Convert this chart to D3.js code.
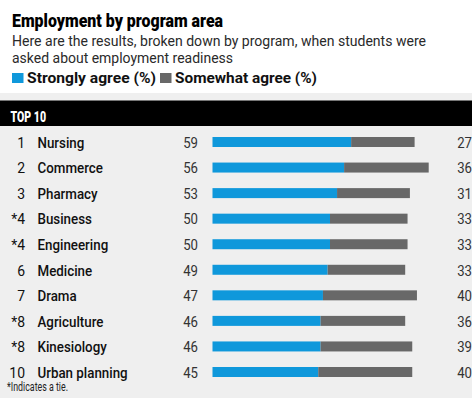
<!DOCTYPE html>
<html>
<head>
<meta charset="utf-8">
<script src="https://cdn.jsdelivr.net/npm/d3@7"></script>
<style>
  html, body { margin: 0; padding: 0; background: #ffffff; }
  svg { display: block; }
  text { font-family: "Roboto", "Liberation Sans", sans-serif; }
</style>
</head>
<body>
<div id="chart"></div>
<script>
const ranks = ["1", "2", "3", "*4", "*4", "6", "7", "*8", "*8", "10"];
const programs = ["Nursing", "Commerce", "Pharmacy", "Business", "Engineering", "Medicine", "Drama", "Agriculture", "Kinesiology", "Urban planning"];
const stronglyAgree = [59, 56, 53, 50, 50, 49, 47, 46, 46, 45];
const somewhatAgree = [27, 36, 31, 33, 33, 33, 40, 36, 39, 40];
const seriesNames = ["Strongly agree (%)", "Somewhat agree (%)"];
const colors = ["#0f98db", "#686868"];

const W = 474, H = 398;
const svg = d3.select("#chart").append("svg").attr("width", W).attr("height", H);

// squeeze text horizontally (condensed look) by a factor
function squeeze(sel, f) {
  sel.each(function () {
    const n = this.getComputedTextLength();
    d3.select(this).attr("textLength", n * f).attr("lengthAdjust", "spacingAndGlyphs");
  });
  return sel;
}
function fitTo(sel, w) {
  sel.attr("textLength", w).attr("lengthAdjust", "spacingAndGlyphs");
  return sel;
}

// backgrounds
svg.append("rect").attr("x", 0).attr("y", 0).attr("width", W).attr("height", H).attr("fill", "#efefef");
svg.append("rect").attr("x", 0).attr("y", 0).attr("width", W).attr("height", 93).attr("fill", "#ffffff");
svg.append("rect").attr("x", 0).attr("y", 100.5).attr("width", 472).attr("height", 25.5).attr("fill", "#000000");

// title block
fitTo(svg.append("text").attr("x", 12).attr("y", 26.5).attr("font-size", 19).attr("font-weight", 900)
  .attr("fill", "#000").text("Employment by program area"), 211);
fitTo(svg.append("text").attr("x", 12).attr("y", 46).attr("font-size", 15.5).attr("fill", "#2a2a2a")
  .text("Here are the results, broken down by program, when students were"), 414);
fitTo(svg.append("text").attr("x", 12).attr("y", 63).attr("font-size", 15.5).attr("fill", "#2a2a2a")
  .text("asked about employment readiness"), 221);

// legend
const legendX = [12, 160];
const legendW = [129, 142];
seriesNames.forEach((n, i) => {
  svg.append("rect").attr("x", legendX[i]).attr("y", 73).attr("width", 11.5).attr("height", 10).attr("fill", colors[i]);
  fitTo(svg.append("text").attr("x", legendX[i] + 15).attr("y", 83).attr("font-size", 15.5).attr("font-weight", 700)
    .attr("fill", "#111").text(n), legendW[i]);
});

fitTo(svg.append("text").attr("x", 10.5).attr("y", 121.5).attr("font-size", 15).attr("font-weight", 900)
  .attr("fill", "#fff").text("TOP 10"), 35.5);

// scales
const x = d3.scaleLinear().domain([0, 100]).range([212.5, 447.5]);
const y = d3.scaleBand().domain(programs).range([137, 377]).paddingInner(0.609).paddingOuter(0);
const bh = y.bandwidth();

const rows = svg.append("g").selectAll("g").data(programs).join("g")
  .attr("transform", d => `translate(0,${y(d)})`);

rows.append("rect").attr("x", x(0)).attr("y", 0).attr("height", bh)
  .attr("width", (d, i) => x(stronglyAgree[i]) - x(0)).attr("fill", colors[0]);
rows.append("rect").attr("x", (d, i) => x(stronglyAgree[i])).attr("y", 0).attr("height", bh)
  .attr("width", (d, i) => x(stronglyAgree[i] + somewhatAgree[i]) - x(stronglyAgree[i])).attr("fill", colors[1]);

const by = bh + 0.8;
squeeze(rows.append("text").attr("x", 25).attr("y", by).attr("text-anchor", "end")
  .attr("font-size", 15.5).attr("fill", "#111").text((d, i) => ranks[i]), 0.9);
squeeze(rows.append("text").attr("x", 37.5).attr("y", by)
  .attr("font-size", 15.5).attr("font-weight", 500).attr("fill", "#111").text(d => d), 0.86);
squeeze(rows.append("text").attr("x", 198).attr("y", by).attr("text-anchor", "end")
  .attr("font-size", 15.5).attr("fill", "#333").text((d, i) => stronglyAgree[i]), 0.85);
squeeze(rows.append("text").attr("x", 472).attr("y", by).attr("text-anchor", "end")
  .attr("font-size", 15.5).attr("fill", "#333").text((d, i) => somewhatAgree[i]), 0.85);

fitTo(svg.append("text").attr("x", 7).attr("y", 391.3).attr("font-size", 12).attr("fill", "#222")
  .text("*Indicates a tie."), 61);

svg.append("rect").attr("x", 472).attr("y", 0).attr("width", 2).attr("height", H).attr("fill", "#ffffff");
</script>
</body>
</html>
